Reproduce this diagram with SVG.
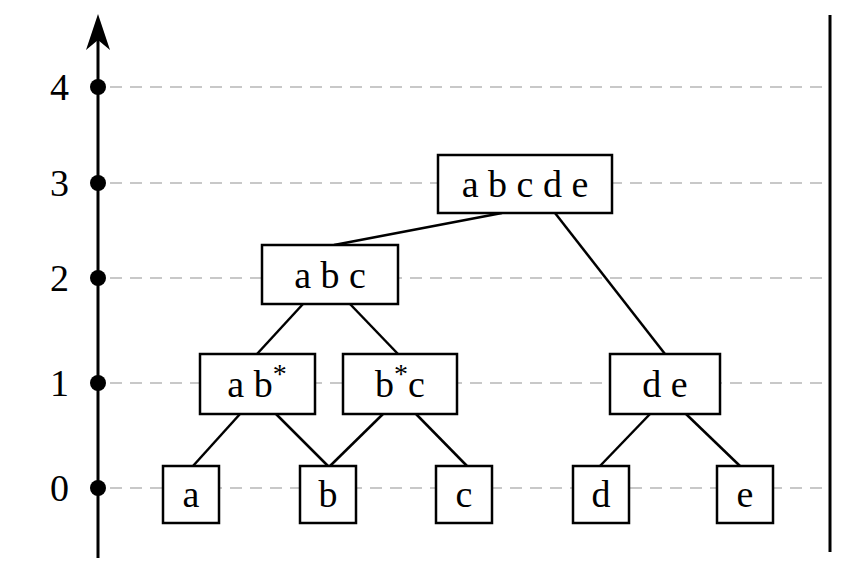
<svg xmlns="http://www.w3.org/2000/svg" width="846" height="565" viewBox="0 0 846 565">
<style>
.n rect{fill:#fff;stroke:#000;stroke-width:2.5}
text{font-family:"Liberation Serif",serif;font-size:38px;fill:#000}
.n text{text-anchor:middle}
.g{stroke:#c8c8c8;stroke-width:2;stroke-dasharray:12,8}
.c line{stroke:#000;stroke-width:2.5}
</style>
<rect width="846" height="565" fill="#fff"/>
<g id="grid">
<line class="g" x1="110" y1="87" x2="830" y2="87"/>
<line class="g" x1="110" y1="183" x2="830" y2="183"/>
<line class="g" x1="110" y1="278" x2="830" y2="278"/>
<line class="g" x1="110" y1="383" x2="830" y2="383"/>
<line class="g" x1="110" y1="488" x2="830" y2="488"/>
</g>
<g id="axis">
<line x1="98" y1="558" x2="98" y2="30" stroke="#000" stroke-width="3"/>
<path d="M98,14 L86,50 L98,40 L110,50Z" fill="#000"/>
<circle cx="98" cy="87" r="8"/><circle cx="98" cy="183" r="8"/><circle cx="98" cy="278" r="8"/><circle cx="98" cy="383" r="8"/><circle cx="98" cy="488" r="8"/>
<text x="50" y="100">4</text><text x="50" y="196">3</text><text x="50" y="291">2</text><text x="50" y="396">1</text><text x="50" y="501">0</text>
</g>
<line x1="830" y1="15" x2="830" y2="552" stroke="#000" stroke-width="3"/>
<g class="c" id="connectors">
<line x1="502" y1="213" x2="334" y2="245"/>
<line x1="555" y1="213" x2="665" y2="354"/>
<line x1="303" y1="304" x2="257" y2="354"/>
<line x1="350" y1="304" x2="398" y2="354"/>
<line x1="240" y1="414" x2="193" y2="466"/>
<line x1="276" y1="414" x2="328" y2="466"/>
<line x1="383" y1="414" x2="330" y2="466"/>
<line x1="416" y1="414" x2="467" y2="466"/>
<line x1="650" y1="414" x2="600" y2="466"/>
<line x1="686" y1="414" x2="740" y2="466"/>
</g>
<g class="n" id="abcde"><rect x="438" y="155" width="174" height="58"/><text x="525" y="197">a b c d e</text></g>
<g class="n" id="abc"><rect x="262" y="245" width="136" height="59"/><text x="330" y="288">a b c</text></g>
<g class="n" id="abs"><rect x="200" y="354" width="115" height="60"/><text x="257" y="397">a b<tspan dy="-14" font-size="28">*</tspan></text></g>
<g class="n" id="bsc"><rect x="343" y="354" width="114" height="60"/><text x="400" y="397">b<tspan dy="-14" font-size="28">*</tspan><tspan dy="14">c</tspan></text></g>
<g class="n" id="de"><rect x="610" y="354" width="110" height="60"/><text x="665" y="397">d e</text></g>
<g class="n" id="a"><rect x="163" y="466" width="56" height="57"/><text x="191" y="507">a</text></g>
<g class="n" id="b"><rect x="300" y="466" width="56" height="57"/><text x="328" y="507">b</text></g>
<g class="n" id="c"><rect x="436" y="466" width="56" height="57"/><text x="464" y="507">c</text></g>
<g class="n" id="d"><rect x="573" y="466" width="56" height="57"/><text x="601" y="507">d</text></g>
<g class="n" id="e"><rect x="717" y="466" width="56" height="57"/><text x="745" y="507">e</text></g>
</svg>
